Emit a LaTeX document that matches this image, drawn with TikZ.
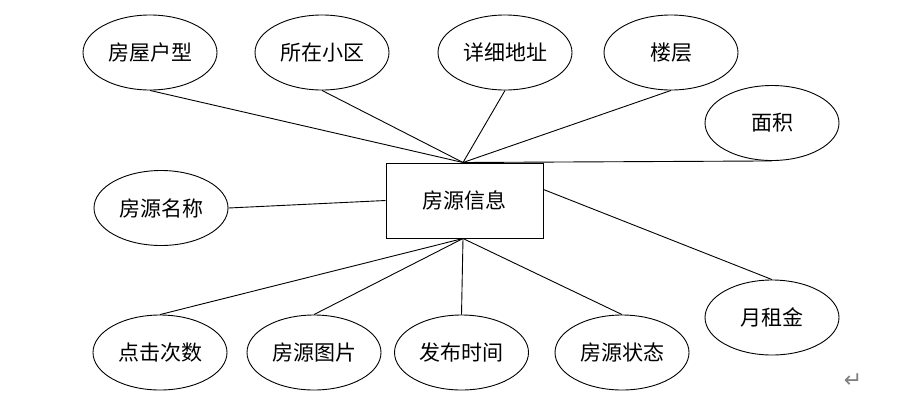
\documentclass[tikz,border=0pt]{standalone}
\usepackage{fontspec}
\newfontfamily\cjk{Noto Sans CJK SC}
\newfontfamily\dejavu{DejaVu Sans}
\usetikzlibrary{shapes.geometric}
\tikzset{
  attr/.style={ellipse, draw, line width=0.9pt, inner sep=0pt, minimum width=134pt, minimum height=75pt, font=\cjk\fontsize{21}{25}\selectfont},
  entity/.style={rectangle, draw, line width=1pt, inner sep=0pt, minimum width=157pt, minimum height=75pt, font=\cjk\fontsize{21}{25}\selectfont},
  link/.style={line width=0.9pt}
}
\begin{document}
\begin{tikzpicture}[x=1pt,y=-1pt]
\useasboundingbox (0,0) rectangle (923,405);
\node[entity] (r) at (464.5,200.5) {房源信息};
\node[attr] (a1) at (150,52.5) {房屋户型};
\node[attr] (a2) at (322,52.5) {所在小区};
\node[attr] (a3) at (505,52.5) {详细地址};
\node[attr] (a4) at (671,52.5) {楼层};
\node[attr] (a5) at (772,123) {面积};
\node[attr] (a6) at (161,208) {房源名称};
\node[attr] (a7) at (772,317.5) {月租金};
\node[attr] (a8) at (160,352.5) {点击次数};
\node[attr] (a9) at (314,352.5) {房源图片};
\node[attr] (a10) at (461.5,352.5) {发布时间};
\node[attr] (a11) at (622,352.5) {房源状态};
\node[text=gray, font=\dejavu\fontsize{22}{24}\selectfont] (pm) at (853,381) {↵};
\coordinate (top) at ([xshift=-1.5pt]r.north);
\coordinate (bot) at ([xshift=-1.5pt]r.south);
\foreach \n in {a1,a2,a3,a4,a5} \draw[link] (\n.south) -- (top);
\foreach \n in {a8,a9,a10,a11} \draw[link] (\n.north) -- (bot);
\draw[link] (a6.east) -- (r.west);
\draw[link] ([yshift=-27pt]r.north east) -- (a7.north);
\end{tikzpicture}
\end{document}
